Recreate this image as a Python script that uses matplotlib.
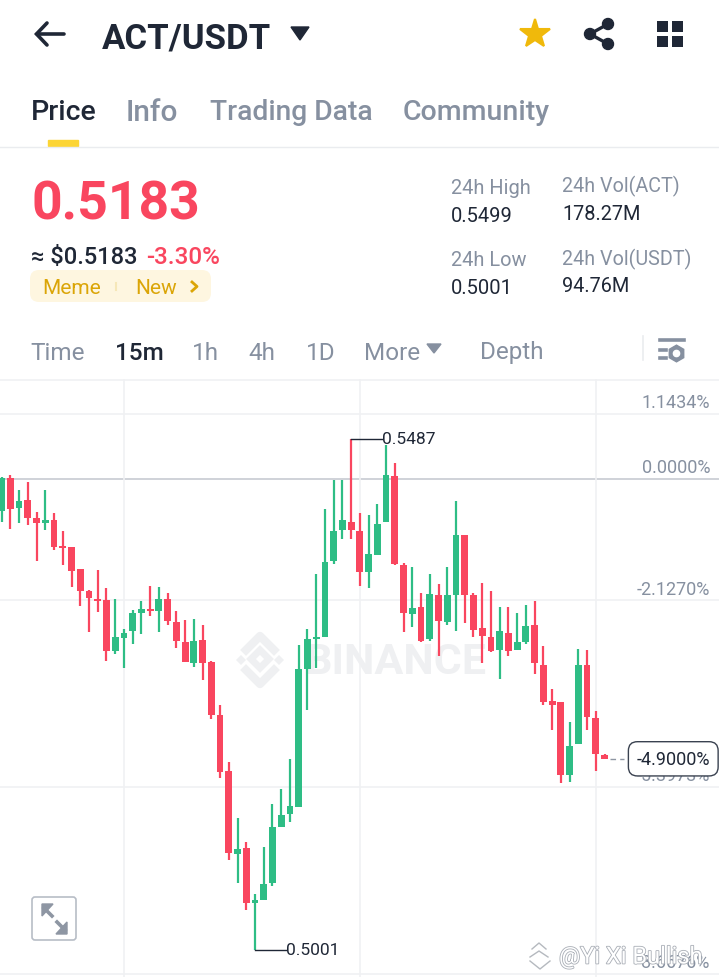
import matplotlib
matplotlib.use("Agg")
import matplotlib.pyplot as plt
from matplotlib.patches import FancyBboxPatch, Polygon, Rectangle, Circle
import matplotlib.patheffects as pe

plt.rcParams["font.family"] = ["Roboto", "DejaVu Sans"]

# candles, as % change from the 0.0000% line
opens = [-0.56, 0.01, -0.51, -0.36, -0.69, -0.77, -0.71, -1.18, -1.20, -1.58,
         -1.97, -2.10, -2.12, -3.01, -2.79, -2.66, -2.35, -2.27, -2.31, -2.10,
         -2.51, -2.85, -3.23, -2.82, -3.21, -4.13, -5.12, -6.56, -6.46, -7.43,
         -7.38, -7.07, -6.09, -5.87, -5.74, -3.32, -2.81, -2.76, -1.43, -0.90,
         -0.76, -0.91, -1.63, -1.33, -0.75, 0.05, -1.51, -2.37, -2.25, -2.81,
         -2.03, -2.50, -2.03, -0.99, -2.04, -2.61, -2.76, -2.99, -2.69, -2.99,
         -2.85, -2.56, -3.25, -3.89, -3.91, -5.19, -4.64, -3.25, -4.19, -4.84]
closes = [0.01, -0.53, -0.39, -0.68, -0.77, -0.71, -1.19, -1.21, -1.61, -1.96,
          -2.09, -2.13, -3.01, -2.77, -2.69, -2.34, -2.27, -2.31, -2.10, -2.48,
          -2.84, -3.21, -2.84, -3.23, -4.13, -5.13, -6.55, -6.48, -7.43, -7.38,
          -7.09, -6.10, -5.88, -5.73, -3.33, -2.80, -2.76, -1.45, -0.91, -0.72,
          -0.90, -1.63, -1.31, -0.78, 0.07, -1.49, -2.35, -2.26, -2.83, -2.01,
          -2.48, -2.04, -0.98, -2.03, -2.64, -2.75, -3.01, -2.67, -3.01, -2.86,
          -2.58, -3.23, -3.91, -3.95, -5.19, -4.67, -3.25, -4.16, -4.82, -4.90]
highs = [0.03, 0.07, -0.19, -0.06, -0.58, -0.19, -0.60, -0.91, -1.20, -1.58,
         -1.95, -1.60, -1.91, -2.10, -2.62, -2.30, -2.14, -1.87, -1.90, -2.00,
         -2.32, -2.47, -2.45, -2.56, -3.18, -3.95, -4.95, -5.93, -6.35, -7.27,
         -6.45, -5.69, -5.42, -4.91, -2.91, -2.63, -1.67, -0.52, -0.01, -0.02,
         0.70, -0.60, -0.63, -0.43, 0.60, 0.28, -1.48, -1.54, -1.99, -1.67,
         -1.84, -1.55, -0.39, -0.99, -2.00, -1.83, -1.97, -2.24, -2.24, -2.35,
         -2.21, -2.14, -2.93, -3.68, -3.91, -4.26, -2.98, -3.00, -4.06, -4.81]
lows = [-0.75, -0.88, -0.77, -0.81, -1.43, -0.90, -1.25, -1.50, -1.89, -2.22,
        -2.68, -2.33, -3.18, -3.07, -3.31, -2.89, -2.72, -2.40, -2.68, -2.55,
        -2.96, -3.21, -3.29, -3.52, -4.20, -5.23, -6.68, -7.07, -7.55, -8.24,
        -7.38, -7.12, -6.09, -6.00, -5.74, -4.05, -3.31, -2.76, -1.49, -1.05,
        -1.05, -1.87, -1.91, -1.34, -0.75, -1.50, -2.68, -2.59, -2.86, -2.83,
        -3.10, -2.55, -2.66, -2.52, -2.77, -3.23, -3.03, -3.50, -3.10, -2.99,
        -2.89, -3.41, -3.95, -4.39, -5.32, -5.30, -4.64, -4.39, -5.12, -4.90]

grid_levels = [1.1434, 0.0, -2.1270, -5.3973, -8.6676]
grid_labels = ["1.1434%", "0.0000%", "-2.1270%", "-5.3973%", "-8.6676%"]
grid_candles = [14, 41, 68]
last_pct = -4.90

RED = "#F9465F"
GREEN = "#2EBD85"
DARK = "#1F2736"
GRAY = "#8690A0"
LINE = "#F0F1F3"

W, H = 719, 978
fig = plt.figure(figsize=(W / 100, H / 100), dpi=100, facecolor="white")

# pixel-coordinate layer for the app chrome
ui = fig.add_axes([0, 0, 1, 1])
ui.set_xlim(0, W)
ui.set_ylim(H, 0)
ui.axis("off")


def label(x, y, s, size, color=GRAY, weight="normal", ha="left"):
    # +2: matplotlib's va=center sits a bit high for this font
    ui.text(x, y + 2, s, fontsize=size, color=color, fontweight=weight, ha=ha, va="center")


# header
ui.plot([37, 64], [35, 35], color=DARK, lw=2.6, solid_capstyle="round")
ui.plot([47, 36.5, 47], [24, 35, 46], color=DARK, lw=2.6, solid_capstyle="round", solid_joinstyle="miter")
label(102, 37, "ACT/USDT", 25, DARK, "bold")
ui.add_patch(Polygon([[291, 28], [309, 28], [300, 41]], color=DARK))
ui.plot(535, 35, marker="*", ms=22, color="#F0B90B", mec="#F0B90B", mew=1.5)
ui.plot([608, 590, 608], [25, 35, 45], color=DARK, lw=2.4)
for cx, cy, r in [(608, 25, 5.5), (590, 35, 5.5), (608, 45, 5.5)]:
    ui.add_patch(Circle((cx, cy), r, color=DARK))
for sx, sy in [(657, 22), (672, 22), (657, 37), (672, 37)]:
    ui.add_patch(Rectangle((sx, sy), 11, 11, fc=DARK, ec="none"))

# tabs
label(31, 111, "Price", 20.5, DARK, "medium")
label(126, 111, "Info", 21.5, GRAY, "medium")
label(210, 111, "Trading Data", 20.3, GRAY, "medium")
label(403, 111, "Community", 20.5, GRAY, "medium")
ui.add_patch(Rectangle((48, 141), 30, 6, color="#FCD535"))
ui.plot([0, W], [148, 148], color="#EAECEF", lw=1)

# price block
label(31, 202.5, "0.5183", 38.5, RED, "bold")
label(31, 256, "≈ $0.5183", 17, DARK, "medium")
label(146, 256, "-3.30%", 17.5, RED, "medium")
ui.add_patch(FancyBboxPatch((30, 271), 181, 32, boxstyle="round,pad=0,rounding_size=9",
                            fc="#FEF6E0", ec="none"))
label(42, 287, "Meme", 15, "#DBA507")
ui.plot([116, 116], [284, 291], color="#F6E7B8", lw=1.5)
label(135, 287, "New", 15, "#DBA507")
ui.plot([192, 197, 192], [283, 287.5, 292], color="#DBA507", lw=2)

label(451, 186, "24h High", 14.4, GRAY)
label(451, 214, "0.5499", 14.5, DARK)
label(451, 258, "24h Low", 14.4, GRAY)
label(451, 286, "0.5001", 14.5, DARK)
label(562, 184, "24h Vol(ACT)", 14.2, GRAY)
label(562, 213, "178.27M", 14.3, DARK)
label(562, 257, "24h Vol(USDT)", 14.2, GRAY)
label(562, 285, "94.76M", 14.3, DARK)

# interval row
label(30, 351, "Time", 17.5, GRAY)
label(115, 351, "15m", 17.5, DARK, "medium")
label(192, 351, "1h", 17.5, GRAY)
label(248, 351, "4h", 17.5, GRAY)
label(306, 351, "1D", 17.5, GRAY)
label(364, 351, "More", 17.5, GRAY)
ui.add_patch(Polygon([[427, 345], [441, 345], [434, 354]], color=GRAY))
label(480, 351, "Depth", 17.5, GRAY)
ui.plot([643, 643], [337, 361], color="#EAECEF", lw=1.2)
ui.plot([660, 684], [341, 341], color=GRAY, lw=2.6)
ui.plot([660, 666], [351, 351], color=GRAY, lw=2.6)
ui.plot([660, 666], [359, 359], color=GRAY, lw=2.6)
ui.plot(676, 354, marker="h", ms=12, color=GRAY)
ui.plot(676, 354, marker="o", ms=4.5, color="white")
ui.plot([0, W], [380.5, 380.5], color=LINE, lw=1.2)

# watermark under the candles
ui.text(395, 662, "BINANCE", fontsize=31, fontweight="bold", color="#EFF0F2", ha="center", va="center")
for cx, cy, s in [(260, 660, 9), (241, 661, 5), (279, 661, 5)]:
    ui.add_patch(Polygon([[cx - s, cy], [cx, cy - s], [cx + s, cy], [cx, cy + s]], fc="none" if s == 9 else "#EFF0F2",
                         ec="#EFF0F2", lw=5 if s == 9 else 0))
ui.plot([246, 260, 274], [651, 637, 651], color="#EFF0F2", lw=6)
ui.plot([246, 260, 274], [671, 685, 671], color="#EFF0F2", lw=6)

# expand button
ui.add_patch(FancyBboxPatch((32, 898), 44, 43, boxstyle="round,pad=0,rounding_size=3",
                            fc="white", ec="#B7BDC6", lw=1.2))
ui.plot([44, 52], [909, 917], color="#8E96A3", lw=2.6)
ui.plot([57, 65], [923, 931], color="#8E96A3", lw=2.6)
ui.add_patch(Polygon([[42, 905], [53, 905], [42, 917]], color="#8E96A3"))
ui.add_patch(Polygon([[67, 935], [56, 935], [67, 923]], color="#8E96A3"))

# chart layer, y range set so 0% and -5.3973% land where the picture has them
ax = fig.add_axes([0, 0, 1, (H - 380) / H])
ax.patch.set_visible(False)
ax.set_xlim(-0.183, 82.1)
ax.set_ylim(-8.72, 1.75)
ax.axis("off")

for lev in grid_levels:
    ax.axhline(lev, color="#CFD2D8" if lev == 0 else LINE, lw=1.4 if lev == 0 else 1.2, zorder=1)
for c in grid_candles:
    ax.axvline(c, color=LINE, lw=1.2, zorder=1)
for lev, txt in zip(grid_levels, grid_labels):
    ax.annotate(txt, xy=(0.9875, lev), xycoords=ax.get_yaxis_transform(), xytext=(0, 2),
                textcoords="offset points", ha="right", va="bottom", fontsize=13, color=GRAY, zorder=2)

for i, (o, c, hi, lo) in enumerate(zip(opens, closes, highs, lows)):
    col = GREEN if c >= o else RED
    ax.vlines(i, lo, hi, color=col, lw=1.6, zorder=3)
    ax.bar(i, abs(c - o), bottom=min(o, c), width=0.78, color=col, zorder=4)

# high / low markers
hi_i = highs.index(max(highs))
lo_i = lows.index(min(lows))
ax.plot([hi_i, hi_i + 3.5], [max(highs)] * 2, color=DARK, lw=1, zorder=5)
ax.plot([lo_i, lo_i + 3.5], [min(lows)] * 2, color=DARK, lw=1, zorder=5)
ax.text(hi_i + 3.55, max(highs), "0.5487", fontsize=12.5, color=DARK, va="center", zorder=5)
ax.text(lo_i + 3.55, min(lows), "0.5001", fontsize=12.5, color=DARK, va="center", zorder=5)

# last price tag
ax.plot([69.6, 71.2], [last_pct] * 2, color="#8E96A3", lw=1, ls=(0, (4, 3)), zorder=5)
ax.annotate("-4.9000%", xy=(0.9875, last_pct), xycoords=ax.get_yaxis_transform(), ha="right", va="center",
            fontsize=13, color=DARK, zorder=6,
            bbox=dict(boxstyle="round,pad=0.45,rounding_size=0.5", fc="white", ec="#3A4250", lw=1))

# reposter mark on top of everything
wm_fx = [pe.withStroke(linewidth=1.2, foreground="#A9AEB6")]
fig.text(559 / W, 1 - 958 / H, "@Yi Xi Bullish", fontsize=17, color="white", va="center", path_effects=wm_fx, zorder=10)
for dy, s in [(950, 7), (958, 9)]:
    ui.plot([539 - s, 539, 539 + s], [dy, dy - 6, dy], color="#B5B9BF", lw=1, zorder=9)
ui.plot([530, 540, 550], [962, 970, 962], color="#B5B9BF", lw=1, zorder=9)

fig.savefig("out.png", dpi=100)
